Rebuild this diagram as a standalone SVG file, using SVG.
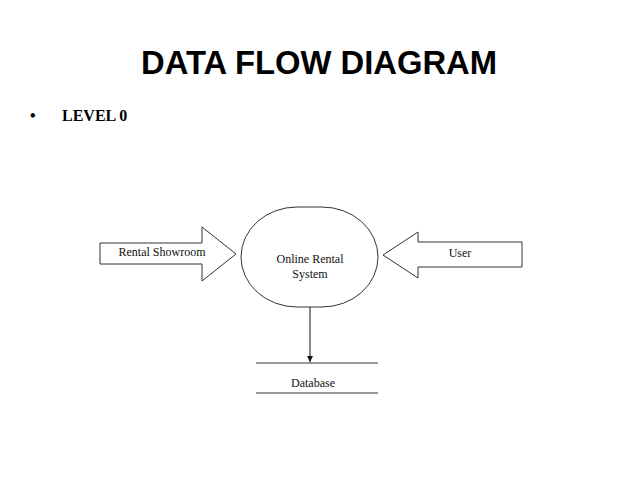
<svg xmlns="http://www.w3.org/2000/svg" width="638" height="478" viewBox="0 0 638 478">
<defs>
<style>
.s{fill:#fff;stroke:#333;stroke-width:1}
.t{font-family:"Liberation Serif",serif;font-size:12px;fill:#111}
</style>
<marker id="ah" markerWidth="8" markerHeight="8" refX="6" refY="3" orient="auto" markerUnits="userSpaceOnUse"><path d="M0,0 L6,3 L0,6 Z" fill="#111"/></marker>
</defs>
<rect width="638" height="478" fill="#fff"/>
<text x="319" y="74" text-anchor="middle" font-family="'Liberation Sans',sans-serif" font-weight="bold" font-size="34" textLength="356" lengthAdjust="spacingAndGlyphs" fill="#000">DATA FLOW DIAGRAM</text>
<text x="30" y="121" font-family="'Liberation Serif',serif" font-weight="bold" font-size="16" fill="#000">•</text>
<text x="62" y="121" font-family="'Liberation Serif',serif" font-weight="bold" font-size="16" fill="#000">LEVEL 0</text>
<g id="rental-showroom"><path class="s" d="M100,243 H202 V227 L236,254 L202,281 V264 H100 Z"/><text class="t" x="162" y="256" text-anchor="middle">Rental Showroom</text></g>
<g id="user"><path class="s" d="M522,242 H418 V232 L383,255 L418,278 V267 H522 Z"/><text class="t" x="460" y="257" text-anchor="middle">User</text></g>
<g id="system"><rect class="s" x="241" y="207" width="137" height="100" rx="56" ry="50"/><text class="t" x="310" y="263" text-anchor="middle">Online Rental</text><text class="t" x="310" y="278" text-anchor="middle">System</text></g>
<g id="database"><line class="s" x1="256" y1="363" x2="378" y2="363"/><line class="s" x1="256" y1="393" x2="378" y2="393"/><text class="t" x="313" y="387" text-anchor="middle">Database</text></g>
<g id="connectors"><line x1="310" y1="307" x2="310" y2="362" stroke="#111" stroke-width="1" marker-end="url(#ah)"/></g>
</svg>
